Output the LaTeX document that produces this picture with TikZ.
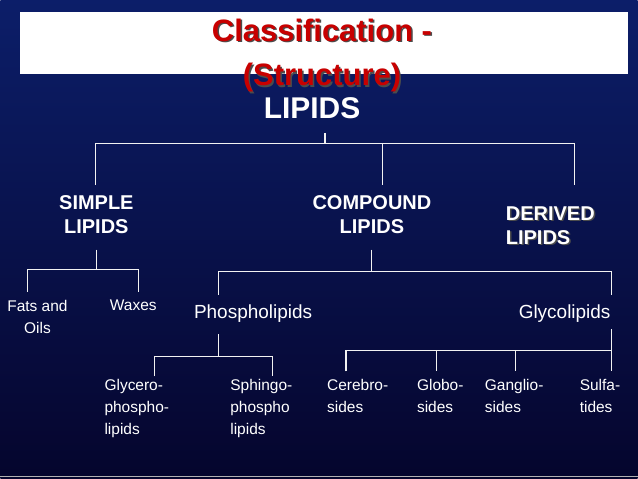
\documentclass[tikz,border=0pt]{standalone}
\usepackage{fontspec}
\setmainfont{Liberation Sans}
\definecolor{bgtop}{RGB}{12,30,105}
\definecolor{bgbot}{RGB}{5,5,45}
\definecolor{ttl}{RGB}{200,0,0}
\begin{document}
\begin{tikzpicture}[x=1pt,y=-1pt,
  ln/.style={draw=white!90!gray,line width=1.1pt},
  ttlf/.style={font=\bfseries\fontsize{31}{36}\selectfont,inner sep=0},
  big/.style={text=white,font=\bfseries\fontsize{20}{24}\selectfont,align=center,inner sep=0},
  mid/.style={text=white,font=\fontsize{19}{22}\selectfont,inner sep=0},
  sm/.style={text=white,font=\fontsize{15.5}{22}\selectfont,align=left,anchor=north west,inner sep=0},
  smc/.style={text=white,font=\fontsize{15.5}{22}\selectfont,align=center,inner sep=0}]
\shade[top color=bgtop,bottom color=bgbot] (0,0) rectangle (638,479);
\draw[gray!60,line width=1pt] (0,477) -- (638,477);
\fill[white] (20,12) rectangle (628,74);
\node[ttlf,text=black!70] (t1s) at (323.5,31.5) {Classification -};
\node[ttlf,text=black!70] (t2s) at (323.5,79.5) {(Structure)};
\node[ttlf,text=ttl] (t1) at (322,30) {Classification -};
\node[ttlf,text=ttl] (t2) at (322,78) {(Structure)};
\node[text=white,font=\bfseries\fontsize{30}{34}\selectfont,inner sep=0] (lip) at (312,108) {LIPIDS};
\coordinate (lb) at (325,133);
\draw[ln] (lb) -- (325,144);
\draw[ln] (95,185) -- (95,144) -- (575,144) -- (575,185);
\draw[ln] (383,144) -- (383,185);
\node[big] (simple) at (96,215) {SIMPLE\\LIPIDS};
\node[big] (comp) at (372,215) {COMPOUND\\LIPIDS};
\node[big,text=black!70,align=left,anchor=west] (ders) at (507.5,227.5) {DERIVED\\LIPIDS};
\node[big,align=left,anchor=west] (der) at (506,226) {DERIVED\\LIPIDS};
\draw[ln] (96,250) -- (96,270);
\draw[ln] (27,292) -- (27,270) -- (138,270) -- (138,292);
\node[smc] (fats) at (37,317) {Fats and\\Oils};
\node[smc] (wax) at (133,306) {Waxes};
\draw[ln] (372,250) -- (372,272);
\draw[ln] (218,295) -- (218,272) -- (612,272) -- (612,295);
\node[mid] (phos) at (253,314) {Phospholipids};
\node[mid] (glyc) at (565,314) {Glycolipids};
\draw[ln] (218,335) -- (218,357);
\draw[ln] (154,377) -- (154,357) -- (272,357) -- (272,377);
\draw[ln] (612,330) -- (612,372);
\draw[ln] (346,372) -- (346,351) -- (612,351);
\draw[ln] (437,351) -- (437,372);
\draw[ln] (516,351) -- (516,372);
\node[sm] (g1) at (104,380) {Glycero-\\phospho-\\lipids};
\node[sm] (g2) at (230,380) {Sphingo-\\phospho\\lipids};
\node[sm] (g3) at (327,380) {Cerebro-\\sides};
\node[sm] (g4) at (417,380) {Globo-\\sides};
\node[sm] (g5) at (485,380) {Ganglio-\\sides};
\node[sm] (g6) at (580,380) {Sulfa-\\tides};
\end{tikzpicture}
\end{document}
